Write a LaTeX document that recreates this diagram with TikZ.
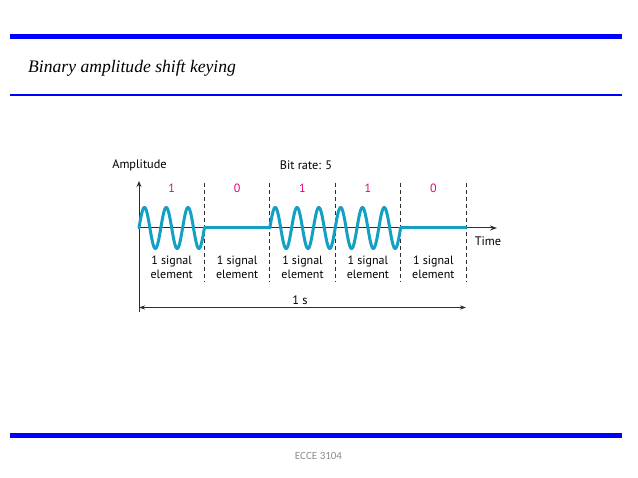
\documentclass[tikz,border=0pt]{standalone}
\usepackage{fontspec}
\setmainfont{Liberation Serif}
\newfontfamily\diagfont{PT Sans}
\newfontfamily\footfont{Carlito}
\usetikzlibrary{arrows.meta}
\definecolor{barblue}{RGB}{0,0,255}
\definecolor{wavecol}{RGB}{20,160,195}
\definecolor{bitpink}{RGB}{230,0,126}
\definecolor{axiscol}{RGB}{45,45,45}
\definecolor{footgray}{RGB}{140,140,140}
\begin{document}
\begin{tikzpicture}[x=1pt,y=-1pt,
  axisline/.style={draw=axiscol, line width=1pt},
  divline/.style={draw=axiscol, line width=0.9pt, dash pattern=on 4pt off 3pt},
  wavestyle/.style={draw=wavecol, line width=3pt, line cap=round, line join=round},
  lbl/.style={font=\diagfont\fontsize{12.3}{14}\selectfont, text=black, inner sep=0pt},
  bitlbl/.style={font=\diagfont\fontsize{12}{14}\selectfont, text=bitpink, inner sep=0pt},
  elemlbl/.style={font=\diagfont\fontsize{12}{14}\selectfont, align=center, inner sep=0pt}]
\useasboundingbox (0,0) rectangle (638,478);
% slide decorations
\fill[barblue] (10,34.5) rectangle (622,39.5);
\draw[barblue, line width=1.2pt] (10,95) -- (622,95);
\fill[barblue] (10,433) rectangle (622,438);
\node[anchor=west, font=\itshape\fontsize{17.6}{20}\selectfont, inner sep=0pt] (title) at (28,68) {Binary amplitude shift keying};
\node[font=\footfont\fontsize{11}{12}\selectfont, text=footgray, inner sep=0pt] (footer) at (318.5,456) {ECCE 3104};
% axes
\coordinate (O) at (139,228);
\coordinate (ytop) at (139,181);
\coordinate (ybot) at (139,312);
\coordinate (xend) at (497,228);
\draw[axisline, -{Stealth[length=6pt,width=5pt]}] (ybot) -- (ytop);
\draw[axisline, -{Stealth[length=7pt,width=5pt]}] (O) -- (xend);
% dashed dividers
\foreach \k in {1,...,5} {
  \coordinate (dt\k) at ({139+65.4*\k},183);
  \coordinate (db\k) at ({139+65.4*\k},282);
  \draw[divline] (dt\k) -- (db\k);
}
% waveform and labels
\foreach \b [count=\i from 0] in {1,0,1,1,0} {
  \pgfmathsetmacro{\xo}{139+65.4*\i}
  \ifnum\b=1
    \draw[wavestyle] plot[domain=0:65.4, samples=150, smooth] ({\xo+\x},{228-20.5*sin(16.5138*\x)});
  \else
    \coordinate (zs\i) at (\xo,228);
    \coordinate (ze\i) at ({\xo+65.4},228);
    \draw[wavestyle] (zs\i) -- (ze\i);
  \fi
  \node[bitlbl] (bit\i) at ({\xo+32.7},188) {\b};
  \node[elemlbl] (el\i) at ({\xo+32.7},267) {1 signal\\element};
}
\node[lbl] (amp) at (139.5,165) {Amplitude};
\node[lbl] (rate) at (306,165) {Bit rate: 5};
\node[lbl] (time) at (488,241) {Time};
\node[lbl] (onesec) at (300,300) {1 s};
\coordinate (sl) at (139,307.5);
\coordinate (sr) at (466,307.5);
\draw[axisline, line width=0.8pt, {Stealth[length=6pt,width=4pt]}-{Stealth[length=6pt,width=4pt]}] (sl) -- (sr);
\begin{scope}
  \clip (100,300) rectangle (520,312.5);
  \node[lbl] (baud) at (300,319.5) {Baud rate: 5};
\end{scope}
\end{tikzpicture}
\end{document}
